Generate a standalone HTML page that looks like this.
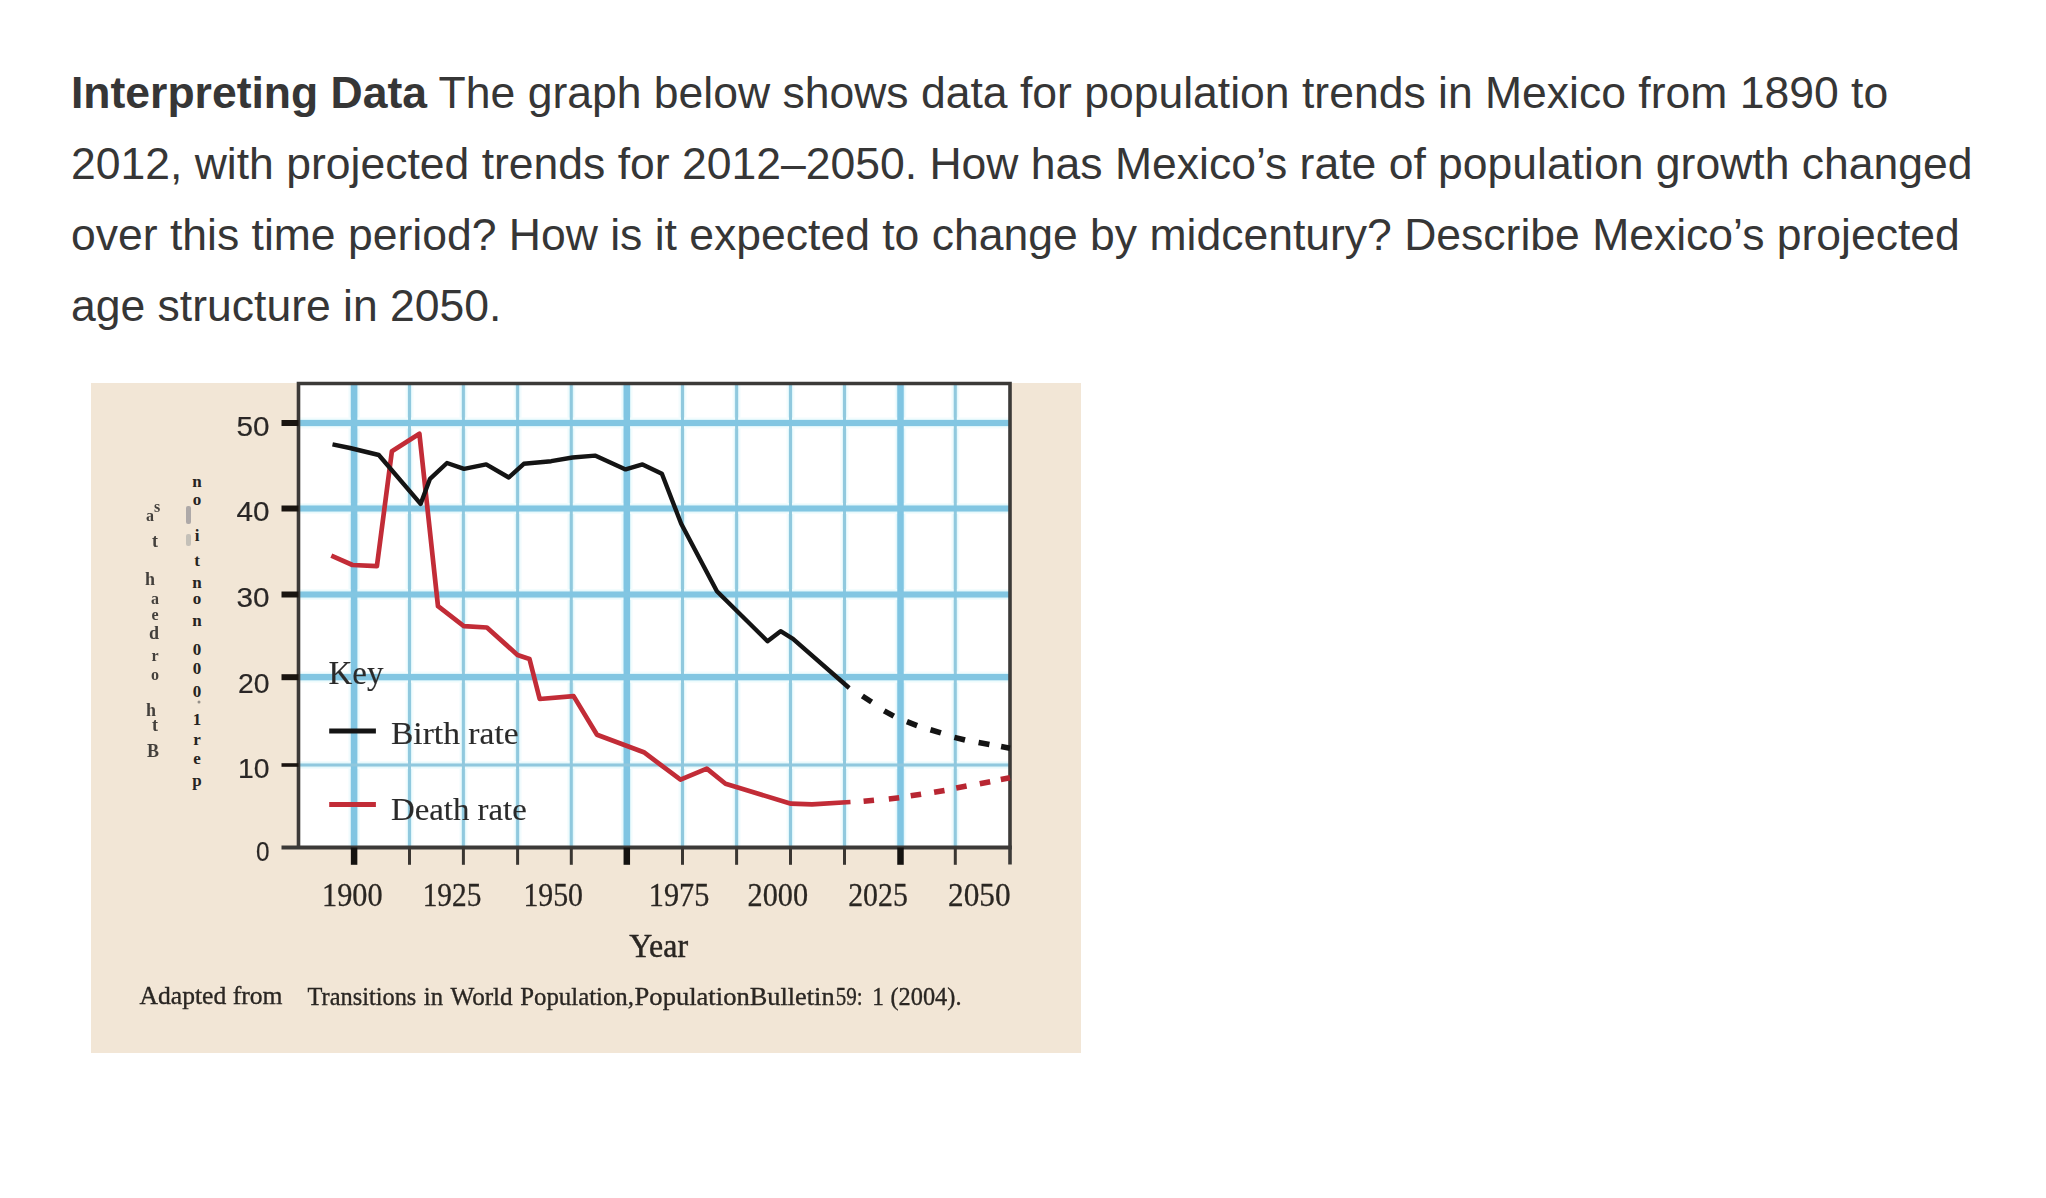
<!DOCTYPE html>
<html><head><meta charset="utf-8">
<style>
html,body{margin:0;padding:0;background:#fff;width:2046px;height:1198px;overflow:hidden;position:relative}
.t{position:absolute;left:71px;top:57px;width:1960px;font-family:"Liberation Sans",sans-serif;font-size:44.5px;line-height:71.1px;color:#363636;white-space:nowrap}
.t b{font-weight:bold}
</style></head><body>
<div class="t"><b>Interpreting Data</b> The graph below shows data for population trends in Mexico from 1890 to<br>2012, with projected trends for 2012&#8211;2050. How has Mexico&#8217;s rate of population growth changed<br>over this time period? How is it expected to change by midcentury? Describe Mexico&#8217;s projected<br>age structure in 2050.</div>
<svg width="2046" height="1198" viewBox="0 0 2046 1198" style="position:absolute;left:0;top:0">
<defs><filter id="bl" x="-50%" y="-50%" width="200%" height="200%"><feGaussianBlur stdDeviation="0.8"/></filter><filter id="bl2" x="-10%" y="-30%" width="120%" height="160%"><feGaussianBlur stdDeviation="0.75"/></filter></defs>
<rect x="91" y="383" width="990" height="670" fill="#f2e6d6"/>
<rect x="298.5" y="383.5" width="711.5" height="464.0" fill="#ffffff"/>
<line x1="354.1" y1="383.5" x2="354.1" y2="847.5" stroke="#f3fcfd" stroke-width="11.5"/>
<line x1="354.1" y1="383.5" x2="354.1" y2="847.5" stroke="#e0f6fb" stroke-width="8.5"/>
<line x1="409.5" y1="383.5" x2="409.5" y2="847.5" stroke="#f3fcfd" stroke-width="8.0"/>
<line x1="409.5" y1="383.5" x2="409.5" y2="847.5" stroke="#e0f6fb" stroke-width="5.0"/>
<line x1="463.4" y1="383.5" x2="463.4" y2="847.5" stroke="#f3fcfd" stroke-width="8.0"/>
<line x1="463.4" y1="383.5" x2="463.4" y2="847.5" stroke="#e0f6fb" stroke-width="5.0"/>
<line x1="517.6" y1="383.5" x2="517.6" y2="847.5" stroke="#f3fcfd" stroke-width="8.0"/>
<line x1="517.6" y1="383.5" x2="517.6" y2="847.5" stroke="#e0f6fb" stroke-width="5.0"/>
<line x1="571.3" y1="383.5" x2="571.3" y2="847.5" stroke="#f3fcfd" stroke-width="8.0"/>
<line x1="571.3" y1="383.5" x2="571.3" y2="847.5" stroke="#e0f6fb" stroke-width="5.0"/>
<line x1="626.8" y1="383.5" x2="626.8" y2="847.5" stroke="#f3fcfd" stroke-width="11.5"/>
<line x1="626.8" y1="383.5" x2="626.8" y2="847.5" stroke="#e0f6fb" stroke-width="8.5"/>
<line x1="682.5" y1="383.5" x2="682.5" y2="847.5" stroke="#f3fcfd" stroke-width="8.0"/>
<line x1="682.5" y1="383.5" x2="682.5" y2="847.5" stroke="#e0f6fb" stroke-width="5.0"/>
<line x1="736.6" y1="383.5" x2="736.6" y2="847.5" stroke="#f3fcfd" stroke-width="8.0"/>
<line x1="736.6" y1="383.5" x2="736.6" y2="847.5" stroke="#e0f6fb" stroke-width="5.0"/>
<line x1="790.5" y1="383.5" x2="790.5" y2="847.5" stroke="#f3fcfd" stroke-width="8.0"/>
<line x1="790.5" y1="383.5" x2="790.5" y2="847.5" stroke="#e0f6fb" stroke-width="5.0"/>
<line x1="844.5" y1="383.5" x2="844.5" y2="847.5" stroke="#f3fcfd" stroke-width="8.0"/>
<line x1="844.5" y1="383.5" x2="844.5" y2="847.5" stroke="#e0f6fb" stroke-width="5.0"/>
<line x1="900.5" y1="383.5" x2="900.5" y2="847.5" stroke="#f3fcfd" stroke-width="11.5"/>
<line x1="900.5" y1="383.5" x2="900.5" y2="847.5" stroke="#e0f6fb" stroke-width="8.5"/>
<line x1="955.3" y1="383.5" x2="955.3" y2="847.5" stroke="#f3fcfd" stroke-width="8.0"/>
<line x1="955.3" y1="383.5" x2="955.3" y2="847.5" stroke="#e0f6fb" stroke-width="5.0"/>
<line x1="298.5" y1="423.0" x2="1010" y2="423.0" stroke="#f3fcfd" stroke-width="11.2"/>
<line x1="298.5" y1="423.0" x2="1010" y2="423.0" stroke="#e0f6fb" stroke-width="8.2"/>
<line x1="298.5" y1="508.5" x2="1010" y2="508.5" stroke="#f3fcfd" stroke-width="11.2"/>
<line x1="298.5" y1="508.5" x2="1010" y2="508.5" stroke="#e0f6fb" stroke-width="8.2"/>
<line x1="298.5" y1="594.5" x2="1010" y2="594.5" stroke="#f3fcfd" stroke-width="11.2"/>
<line x1="298.5" y1="594.5" x2="1010" y2="594.5" stroke="#e0f6fb" stroke-width="8.2"/>
<line x1="298.5" y1="677.2" x2="1010" y2="677.2" stroke="#f3fcfd" stroke-width="11.2"/>
<line x1="298.5" y1="677.2" x2="1010" y2="677.2" stroke="#e0f6fb" stroke-width="8.2"/>
<line x1="298.5" y1="765.0" x2="1010" y2="765.0" stroke="#f3fcfd" stroke-width="8.0"/>
<line x1="298.5" y1="765.0" x2="1010" y2="765.0" stroke="#e0f6fb" stroke-width="5.0"/>
<line x1="354.1" y1="383.5" x2="354.1" y2="847.5" stroke="#80c5e2" stroke-width="6.5"/>
<line x1="409.5" y1="383.5" x2="409.5" y2="847.5" stroke="#90c9de" stroke-width="3.0"/>
<line x1="463.4" y1="383.5" x2="463.4" y2="847.5" stroke="#90c9de" stroke-width="3.0"/>
<line x1="517.6" y1="383.5" x2="517.6" y2="847.5" stroke="#90c9de" stroke-width="3.0"/>
<line x1="571.3" y1="383.5" x2="571.3" y2="847.5" stroke="#90c9de" stroke-width="3.0"/>
<line x1="626.8" y1="383.5" x2="626.8" y2="847.5" stroke="#80c5e2" stroke-width="6.5"/>
<line x1="682.5" y1="383.5" x2="682.5" y2="847.5" stroke="#90c9de" stroke-width="3.0"/>
<line x1="736.6" y1="383.5" x2="736.6" y2="847.5" stroke="#90c9de" stroke-width="3.0"/>
<line x1="790.5" y1="383.5" x2="790.5" y2="847.5" stroke="#90c9de" stroke-width="3.0"/>
<line x1="844.5" y1="383.5" x2="844.5" y2="847.5" stroke="#90c9de" stroke-width="3.0"/>
<line x1="900.5" y1="383.5" x2="900.5" y2="847.5" stroke="#80c5e2" stroke-width="6.5"/>
<line x1="955.3" y1="383.5" x2="955.3" y2="847.5" stroke="#90c9de" stroke-width="3.0"/>
<line x1="298.5" y1="423.0" x2="1010" y2="423.0" stroke="#82c6e2" stroke-width="6.2"/>
<line x1="298.5" y1="508.5" x2="1010" y2="508.5" stroke="#82c6e2" stroke-width="6.2"/>
<line x1="298.5" y1="594.5" x2="1010" y2="594.5" stroke="#82c6e2" stroke-width="6.2"/>
<line x1="298.5" y1="677.2" x2="1010" y2="677.2" stroke="#82c6e2" stroke-width="6.2"/>
<line x1="298.5" y1="765.0" x2="1010" y2="765.0" stroke="#90c8de" stroke-width="3.0"/>
<path d="M298.5,847.5 V383.5 H1010 V864.5" fill="none" stroke="#3c3a38" stroke-width="3.6"/>
<line x1="281.5" y1="847.5" x2="1011.8" y2="847.5" stroke="#3c3a38" stroke-width="3.8"/>
<line x1="281.5" y1="423.0" x2="298.5" y2="423.0" stroke="#1a1410" stroke-width="6"/>
<line x1="281.5" y1="508.5" x2="298.5" y2="508.5" stroke="#1a1410" stroke-width="6"/>
<line x1="281.5" y1="594.5" x2="298.5" y2="594.5" stroke="#1a1410" stroke-width="6"/>
<line x1="281.5" y1="677.2" x2="298.5" y2="677.2" stroke="#1a1410" stroke-width="6"/>
<line x1="281.5" y1="765.0" x2="298.5" y2="765.0" stroke="#1a1410" stroke-width="3.6"/>
<line x1="354.1" y1="847.5" x2="354.1" y2="864.8" stroke="#141210" stroke-width="6.5"/>
<line x1="409.5" y1="847.5" x2="409.5" y2="864.8" stroke="#3a3632" stroke-width="3.0"/>
<line x1="463.4" y1="847.5" x2="463.4" y2="864.8" stroke="#3a3632" stroke-width="3.0"/>
<line x1="517.6" y1="847.5" x2="517.6" y2="864.8" stroke="#3a3632" stroke-width="3.0"/>
<line x1="571.3" y1="847.5" x2="571.3" y2="864.8" stroke="#3a3632" stroke-width="3.0"/>
<line x1="626.8" y1="847.5" x2="626.8" y2="864.8" stroke="#141210" stroke-width="6.5"/>
<line x1="682.5" y1="847.5" x2="682.5" y2="864.8" stroke="#3a3632" stroke-width="3.0"/>
<line x1="736.6" y1="847.5" x2="736.6" y2="864.8" stroke="#3a3632" stroke-width="3.0"/>
<line x1="790.5" y1="847.5" x2="790.5" y2="864.8" stroke="#3a3632" stroke-width="3.0"/>
<line x1="844.5" y1="847.5" x2="844.5" y2="864.8" stroke="#3a3632" stroke-width="3.0"/>
<line x1="900.5" y1="847.5" x2="900.5" y2="864.8" stroke="#141210" stroke-width="6.5"/>
<line x1="955.3" y1="847.5" x2="955.3" y2="864.8" stroke="#3a3632" stroke-width="3.0"/>
<polyline points="331.3,555.6 352.5,565.0 376.9,566.2 391.9,451.2 419.4,433.8 438.0,606.2 463.8,626.2 486.9,627.5 517.5,655.0 529.5,659.0 539.7,699.0 573.6,696.1 597.0,734.7 643.8,752.2 680.5,779.7 706.8,768.6 725.5,783.8 739.5,788.0 791.0,803.7 812.0,804.3 850.5,802.0" fill="none" stroke="#c22c37" stroke-width="4.7" stroke-linejoin="round"/>
<polyline points="332.5,444.4 350.0,448.0 378.8,455.0 420.6,503.9 430.0,478.8 447.0,463.0 464.0,468.8 486.2,464.4 508.8,477.5 523.8,463.8 551.2,461.2 572.5,457.5 595.0,455.6 625.6,469.4 642.5,464.4 661.9,473.8 681.2,523.8 716.9,591.2 767.5,641.2 780.6,631.2 793.0,638.8 849.2,688.0" fill="none" stroke="#141414" stroke-width="4.4" stroke-linejoin="round"/>
<line x1="862.4" y1="696.0" x2="871.6" y2="702.0" stroke="#141414" stroke-width="5.6"/>
<line x1="884.2" y1="710.9" x2="893.8" y2="716.1" stroke="#141414" stroke-width="5.6"/>
<line x1="906.9" y1="721.7" x2="917.1" y2="725.7" stroke="#141414" stroke-width="5.6"/>
<line x1="930.5" y1="729.7" x2="940.9" y2="732.9" stroke="#141414" stroke-width="5.6"/>
<line x1="954.4" y1="737.4" x2="965.0" y2="740.0" stroke="#141414" stroke-width="5.6"/>
<line x1="978.6" y1="742.4" x2="989.4" y2="744.4" stroke="#141414" stroke-width="5.6"/>
<line x1="1001.1" y1="746.6" x2="1010.0" y2="748.3" stroke="#141414" stroke-width="5.6"/>
<line x1="863.6" y1="801.3" x2="874.0" y2="800.3" stroke="#b82632" stroke-width="5.6"/>
<line x1="888.8" y1="799.0" x2="899.2" y2="797.8" stroke="#b82632" stroke-width="5.6"/>
<line x1="910.7" y1="795.8" x2="921.1" y2="794.2" stroke="#b82632" stroke-width="5.6"/>
<line x1="934.1" y1="792.3" x2="944.5" y2="790.5" stroke="#b82632" stroke-width="5.6"/>
<line x1="956.2" y1="788.0" x2="966.6" y2="786.0" stroke="#b82632" stroke-width="5.6"/>
<line x1="979.8" y1="783.7" x2="990.2" y2="781.7" stroke="#b82632" stroke-width="5.6"/>
<line x1="1000.8" y1="779.6" x2="1010.0" y2="777.8" stroke="#b82632" stroke-width="5.6"/>
<text x="236.5" y="435.8" font-family='"Liberation Sans", sans-serif' font-size="27" fill="#2a2826" stroke="#2a2826" stroke-width="0.2" filter="url(#bl2)" textLength="33.0" lengthAdjust="spacingAndGlyphs">50</text>
<text x="236.5" y="521.0" font-family='"Liberation Sans", sans-serif' font-size="27" fill="#2a2826" stroke="#2a2826" stroke-width="0.2" filter="url(#bl2)" textLength="33.0" lengthAdjust="spacingAndGlyphs">40</text>
<text x="236.5" y="606.5" font-family='"Liberation Sans", sans-serif' font-size="27" fill="#2a2826" stroke="#2a2826" stroke-width="0.2" filter="url(#bl2)" textLength="33.0" lengthAdjust="spacingAndGlyphs">30</text>
<text x="238" y="692.5" font-family='"Liberation Sans", sans-serif' font-size="27" fill="#2a2826" stroke="#2a2826" stroke-width="0.2" filter="url(#bl2)" textLength="31.5" lengthAdjust="spacingAndGlyphs">20</text>
<text x="238" y="778" font-family='"Liberation Sans", sans-serif' font-size="27" fill="#2a2826" stroke="#2a2826" stroke-width="0.2" filter="url(#bl2)" textLength="31.5" lengthAdjust="spacingAndGlyphs">10</text>
<text x="256" y="861.4" font-family='"Liberation Sans", sans-serif' font-size="27" fill="#2a2826" stroke="#2a2826" stroke-width="0.2" filter="url(#bl2)" textLength="13.5" lengthAdjust="spacingAndGlyphs">0</text>
<text x="322" y="906" font-family='"Liberation Serif", serif' font-size="33" fill="#2a2622" stroke="#2a2622" stroke-width="0.3" filter="url(#bl2)" textLength="60.60000000000002" lengthAdjust="spacingAndGlyphs">1900</text>
<text x="422.7" y="906" font-family='"Liberation Serif", serif' font-size="33" fill="#2a2622" stroke="#2a2622" stroke-width="0.3" filter="url(#bl2)" textLength="58.69999999999999" lengthAdjust="spacingAndGlyphs">1925</text>
<text x="523.4" y="906" font-family='"Liberation Serif", serif' font-size="33" fill="#2a2622" stroke="#2a2622" stroke-width="0.3" filter="url(#bl2)" textLength="59.60000000000002" lengthAdjust="spacingAndGlyphs">1950</text>
<text x="648.8" y="906" font-family='"Liberation Serif", serif' font-size="33" fill="#2a2622" stroke="#2a2622" stroke-width="0.3" filter="url(#bl2)" textLength="60.60000000000002" lengthAdjust="spacingAndGlyphs">1975</text>
<text x="747.5" y="906" font-family='"Liberation Serif", serif' font-size="33" fill="#2a2622" stroke="#2a2622" stroke-width="0.3" filter="url(#bl2)" textLength="60.5" lengthAdjust="spacingAndGlyphs">2000</text>
<text x="848.2" y="906" font-family='"Liberation Serif", serif' font-size="33" fill="#2a2622" stroke="#2a2622" stroke-width="0.3" filter="url(#bl2)" textLength="59.59999999999991" lengthAdjust="spacingAndGlyphs">2025</text>
<text x="948" y="906" font-family='"Liberation Serif", serif' font-size="33" fill="#2a2622" stroke="#2a2622" stroke-width="0.3" filter="url(#bl2)" textLength="62.5" lengthAdjust="spacingAndGlyphs">2050</text>
<text x="629.3" y="957" font-family='"Liberation Serif", serif' font-size="34" fill="#2a2622" stroke="#2a2622" stroke-width="0.5" filter="url(#bl2)" textLength="58.7" lengthAdjust="spacingAndGlyphs">Year</text>
<text x="328.4" y="684.2" font-family='"Liberation Serif", serif' font-size="33" fill="#2c2c2c" stroke="#2c2c2c" stroke-width="0.15" filter="url(#bl2)" textLength="55" lengthAdjust="spacingAndGlyphs">Key</text>
<line x1="329.2" y1="731" x2="375.9" y2="731" stroke="#141414" stroke-width="5.0"/>
<line x1="329.2" y1="804.5" x2="375.9" y2="804.5" stroke="#c22c37" stroke-width="5.0"/>
<text x="391" y="743.5" font-family='"Liberation Serif", serif' font-size="32" fill="#2c2c2c" stroke="#2c2c2c" stroke-width="0.15" filter="url(#bl2)" textLength="127.6" lengthAdjust="spacingAndGlyphs">Birth rate</text>
<text x="391" y="820.3" font-family='"Liberation Serif", serif' font-size="32" fill="#2c2c2c" stroke="#2c2c2c" stroke-width="0.15" filter="url(#bl2)" textLength="135.7" lengthAdjust="spacingAndGlyphs">Death rate</text>
<text x="139.5" y="1003.6" font-family='"Liberation Serif", serif' font-size="26" fill="#2a2622" stroke="#2a2622" stroke-width="0.35" filter="url(#bl2)" textLength="143" lengthAdjust="spacingAndGlyphs">Adapted from</text>
<text x="307.5" y="1004.5" font-family='"Liberation Serif", serif' font-size="26" fill="#2a2622" stroke="#2a2622" stroke-width="0.35" filter="url(#bl2)" textLength="108.80000000000001" lengthAdjust="spacingAndGlyphs">Transitions</text>
<text x="423.8" y="1004.5" font-family='"Liberation Serif", serif' font-size="26" fill="#2a2622" stroke="#2a2622" stroke-width="0.35" filter="url(#bl2)" textLength="19.19999999999999" lengthAdjust="spacingAndGlyphs">in</text>
<text x="450.4" y="1004.5" font-family='"Liberation Serif", serif' font-size="26" fill="#2a2622" stroke="#2a2622" stroke-width="0.35" filter="url(#bl2)" textLength="62.30000000000007" lengthAdjust="spacingAndGlyphs">World</text>
<text x="520.2" y="1004.5" font-family='"Liberation Serif", serif' font-size="26" fill="#2a2622" stroke="#2a2622" stroke-width="0.35" filter="url(#bl2)" textLength="113.79999999999995" lengthAdjust="spacingAndGlyphs">Population,</text>
<text x="634.6" y="1004.5" font-family='"Liberation Serif", serif' font-size="26" fill="#2a2622" stroke="#2a2622" stroke-width="0.35" filter="url(#bl2)" textLength="115.10000000000002" lengthAdjust="spacingAndGlyphs">Population</text>
<text x="749.7" y="1004.5" font-family='"Liberation Serif", serif' font-size="26" fill="#2a2622" stroke="#2a2622" stroke-width="0.35" filter="url(#bl2)" textLength="84.89999999999998" lengthAdjust="spacingAndGlyphs">Bulletin</text>
<text x="835.7" y="1004.5" font-family='"Liberation Serif", serif' font-size="26" fill="#2a2622" stroke="#2a2622" stroke-width="0.35" filter="url(#bl2)" textLength="26.899999999999977" lengthAdjust="spacingAndGlyphs">59:</text>
<text x="872.3" y="1004.5" font-family='"Liberation Serif", serif' font-size="26" fill="#2a2622" stroke="#2a2622" stroke-width="0.35" filter="url(#bl2)" textLength="11.700000000000045" lengthAdjust="spacingAndGlyphs">1</text>
<text x="890.5" y="1004.5" font-family='"Liberation Serif", serif' font-size="26" fill="#2a2622" stroke="#2a2622" stroke-width="0.35" filter="url(#bl2)" textLength="71.0" lengthAdjust="spacingAndGlyphs">(2004).</text>
<text x="197" y="487" font-family='"Liberation Serif", serif' font-weight="bold" font-size="17" fill="#262422" text-anchor="middle">n</text>
<text x="197" y="505" font-family='"Liberation Serif", serif' font-weight="bold" font-size="17" fill="#262422" text-anchor="middle">o</text>
<text x="197" y="541" font-family='"Liberation Serif", serif' font-weight="bold" font-size="17" fill="#262422" text-anchor="middle">i</text>
<text x="197" y="566" font-family='"Liberation Serif", serif' font-weight="bold" font-size="17" fill="#262422" text-anchor="middle">t</text>
<text x="197" y="588" font-family='"Liberation Serif", serif' font-weight="bold" font-size="17" fill="#262422" text-anchor="middle">n</text>
<text x="197" y="604" font-family='"Liberation Serif", serif' font-weight="bold" font-size="17" fill="#262422" text-anchor="middle">o</text>
<text x="197" y="626" font-family='"Liberation Serif", serif' font-weight="bold" font-size="17" fill="#262422" text-anchor="middle">n</text>
<text x="197" y="655" font-family='"Liberation Serif", serif' font-weight="bold" font-size="17" fill="#262422" text-anchor="middle">0</text>
<text x="197" y="674" font-family='"Liberation Serif", serif' font-weight="bold" font-size="17" fill="#262422" text-anchor="middle">0</text>
<text x="197" y="697" font-family='"Liberation Serif", serif' font-weight="bold" font-size="17" fill="#262422" text-anchor="middle">0</text>
<text x="197" y="725" font-family='"Liberation Serif", serif' font-weight="bold" font-size="17" fill="#262422" text-anchor="middle">1</text>
<text x="197" y="745" font-family='"Liberation Serif", serif' font-weight="bold" font-size="17" fill="#262422" text-anchor="middle">r</text>
<text x="197" y="764" font-family='"Liberation Serif", serif' font-weight="bold" font-size="17" fill="#262422" text-anchor="middle">e</text>
<text x="197" y="786" font-family='"Liberation Serif", serif' font-weight="bold" font-size="17" fill="#262422" text-anchor="middle">p</text>
<rect x="186" y="506" width="5" height="18" rx="2" fill="#5a6070" opacity="0.45"/>
<rect x="186" y="534" width="5" height="12" rx="2" fill="#707780" opacity="0.35"/>
<circle cx="199" cy="702" r="1.5" fill="#555" opacity="0.6"/>
<text x="157" y="512" font-family='"Liberation Serif", serif' font-weight="bold" font-size="16" fill="#262422" text-anchor="middle" opacity="0.85">s</text>
<text x="150" y="521" font-family='"Liberation Serif", serif' font-weight="bold" font-size="16" fill="#262422" text-anchor="middle" opacity="0.85">a</text>
<text x="155" y="547" font-family='"Liberation Serif", serif' font-weight="bold" font-size="18" fill="#262422" text-anchor="middle" opacity="0.85">t</text>
<text x="150" y="585" font-family='"Liberation Serif", serif' font-weight="bold" font-size="18" fill="#262422" text-anchor="middle" opacity="0.85">h</text>
<text x="155" y="604" font-family='"Liberation Serif", serif' font-weight="bold" font-size="16" fill="#262422" text-anchor="middle" opacity="0.85">a</text>
<text x="155" y="620" font-family='"Liberation Serif", serif' font-weight="bold" font-size="16" fill="#262422" text-anchor="middle" opacity="0.85">e</text>
<text x="154" y="639" font-family='"Liberation Serif", serif' font-weight="bold" font-size="18" fill="#262422" text-anchor="middle" opacity="0.85">d</text>
<text x="155" y="661" font-family='"Liberation Serif", serif' font-weight="bold" font-size="16" fill="#262422" text-anchor="middle" opacity="0.85">r</text>
<text x="155" y="680" font-family='"Liberation Serif", serif' font-weight="bold" font-size="16" fill="#262422" text-anchor="middle" opacity="0.85">o</text>
<text x="151" y="716" font-family='"Liberation Serif", serif' font-weight="bold" font-size="18" fill="#262422" text-anchor="middle" opacity="0.85">h</text>
<text x="155" y="731" font-family='"Liberation Serif", serif' font-weight="bold" font-size="18" fill="#262422" text-anchor="middle" opacity="0.85">t</text>
<text x="153" y="757" font-family='"Liberation Serif", serif' font-weight="bold" font-size="18" fill="#262422" text-anchor="middle" opacity="0.85">B</text>
</svg>
</body></html>
